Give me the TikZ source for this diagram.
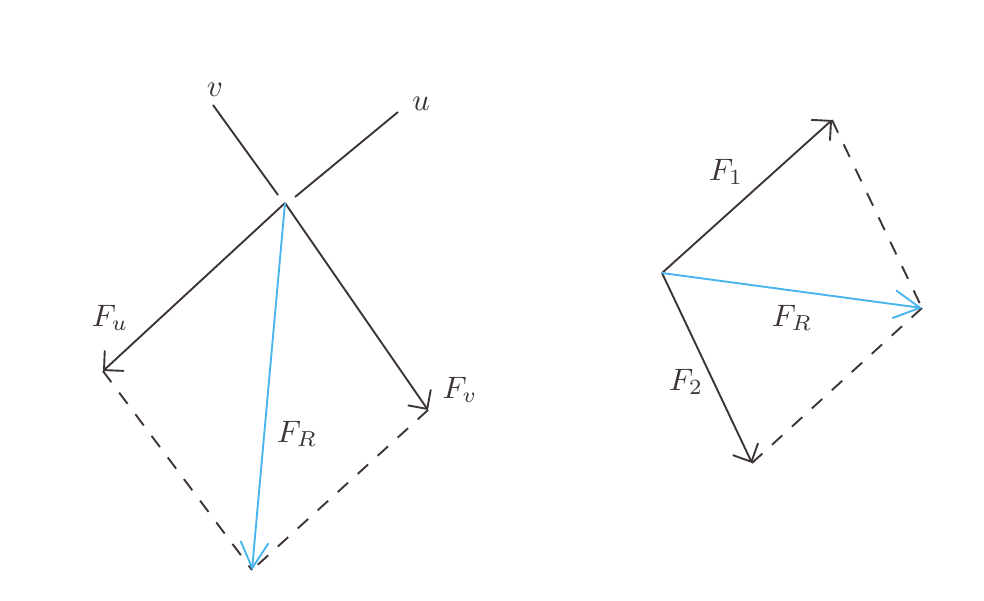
\documentclass[tikz,border=0pt]{standalone}
\usetikzlibrary{arrows.meta}
\definecolor{ink}{HTML}{3D3535}
\definecolor{sky}{HTML}{4AB4EC}
\begin{document}
\begin{tikzpicture}[x=1pt,y=-1pt,
  vec/.style={draw=ink,line width=1.9pt,-{Straight Barb[length=14pt,width=28pt,line width=1.9pt]}},
  res/.style={draw=sky,line width=1.9pt,-{Straight Barb[length=26pt,width=28pt,line width=1.9pt]}},
  axis/.style={draw=ink,line width=1.9pt},
  comp/.style={draw=ink,line width=1.9pt,dash pattern=on 14pt off 13pt},
  lab/.style={text=ink,scale=3.1}]
\useasboundingbox (0,0) rectangle (984,600);
% left figure
\coordinate (O) at (285,203);
\coordinate (v1) at (213,105);
\coordinate (v2) at (278,195);
\coordinate (u1) at (398,112);
\coordinate (u2) at (295,197);
\coordinate (Fu) at (103,371);
\coordinate (Fv) at (428,410);
\coordinate (FR) at (252,570);
\draw[axis] (v1) -- (v2);
\draw[axis] (u1) -- (u2);
\draw[comp] (Fu) -- (FR);
\draw[comp] (Fv) -- (FR);
\draw[vec] (O) -- (Fu);
\draw[vec] (O) -- (Fv);
\draw[res] (O) -- (FR);
\node[lab] (lv) at (215,90) {$v$};
\node[lab] (lu) at (421,104) {$u$};
\node[lab] (lFu) at (110,318) {$F_u$};
\node[lab] (lFv) at (460,390) {$F_v$};
\node[lab] (lFR) at (297,434) {$F_R$};
% right figure
\coordinate (P) at (662,273);
\coordinate (F1) at (832,120);
\coordinate (F2) at (752,463);
\coordinate (R) at (922,308);
\draw[comp] (F1) -- (R);
\draw[comp] (F2) -- (R);
\draw[vec] (P) -- (F1);
\draw[vec] (P) -- (F2);
\draw[res] (P) -- (R);
\node[lab] (lF1) at (726,172) {$F_1$};
\node[lab] (lF2) at (686,382) {$F_2$};
\node[lab] (lR) at (792,318) {$F_R$};
\end{tikzpicture}
\end{document}
